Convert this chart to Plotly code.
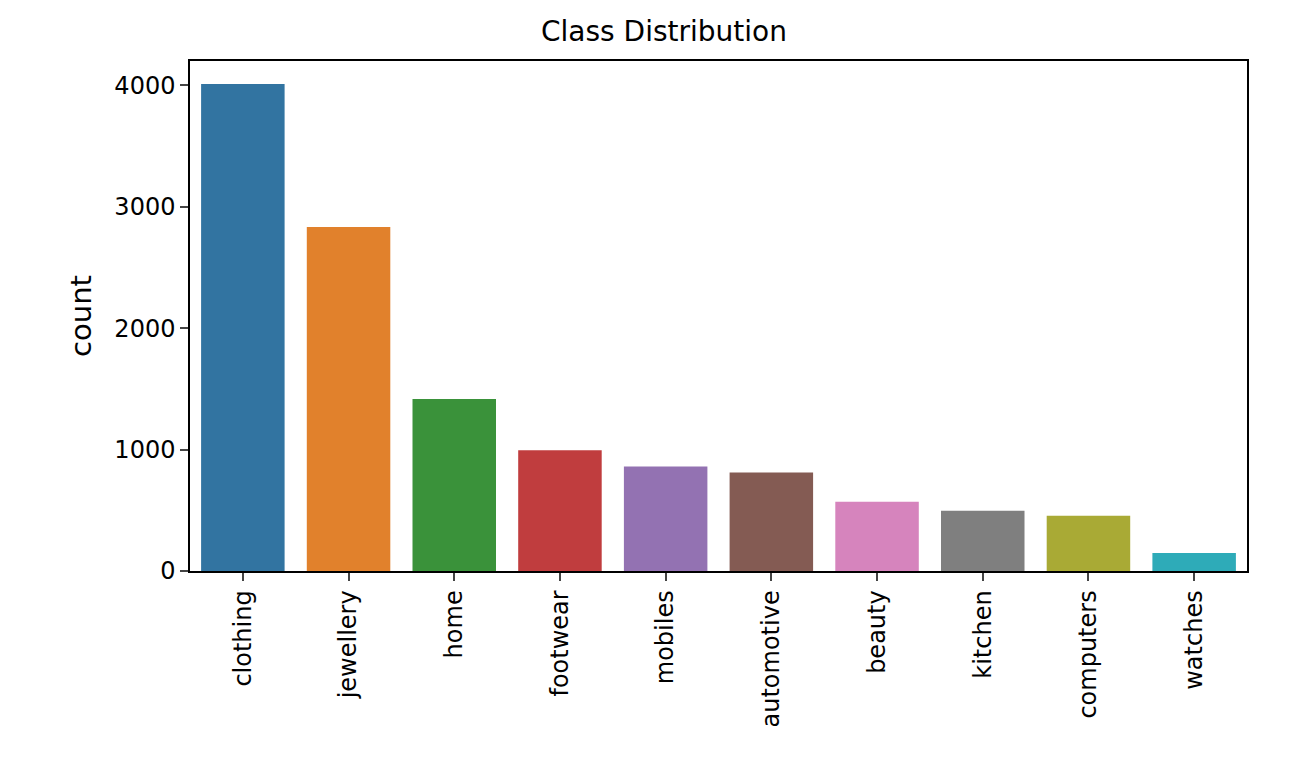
import plotly.graph_objects as go

categories = ["clothing","jewellery","home","footwear","mobiles","automotive","beauty","kitchen","computers","watches"]
counts = [4010, 2832, 1416, 994, 861, 812, 571, 497, 455, 149]
colors = ["#3274a1","#e1812c","#3a923a","#c03d3e","#9372b2","#845b53","#d684bd","#7f7f7f","#a9aa35","#2eabb8"]

fig = go.Figure(go.Bar(x=categories, y=counts, marker_color=colors, marker_line_width=0))
fig.update_layout(
    width=1312, height=776, plot_bgcolor="white", paper_bgcolor="white",
    margin=dict(l=182, r=73, t=53, b=213),
    bargap=0.21,
    font=dict(family="DejaVu Sans", size=24, color="black"),
    title=dict(text="Class Distribution", x=0.5, xanchor="center", y=0.97, yanchor="middle", font=dict(size=28)),
    showlegend=False,
)
fig.update_xaxes(range=[-0.5, 9.5], tickangle=-90, ticks="outside", ticklen=8, tickwidth=1.5,
                 showline=True, linecolor="black", linewidth=1.5, mirror=True, showgrid=False)
fig.update_yaxes(range=[0, 4200], tickvals=[0,1000,2000,3000,4000], ticks="outside", ticklen=8, tickwidth=1.5,
                 showline=True, linecolor="black", linewidth=1.5, mirror=True, showgrid=False, zeroline=False,
                 title=dict(text="count", standoff=14))
fig.write_html("out.html")
